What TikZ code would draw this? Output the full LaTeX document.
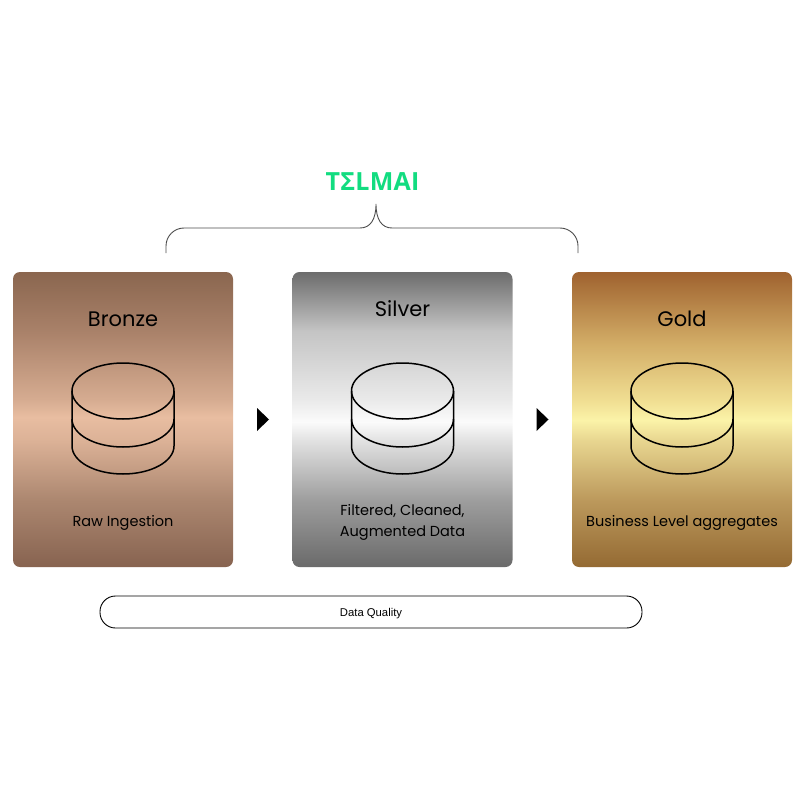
\documentclass[tikz,border=0pt]{standalone}
\usepackage{fontspec}
\setmainfont{Poppins}
\newfontfamily\arialish{Liberation Sans}
\newfontfamily\logofont[LetterSpace=1]{Open Sans}
\definecolor{logogreen}{HTML}{12DC80}
\definecolor{brA}{HTML}{8A664F}
\definecolor{brB}{HTML}{A98169}
\definecolor{brC}{HTML}{D6AC91}
\definecolor{brD}{HTML}{E8BDA1}
\definecolor{brE}{HTML}{DCB297}
\definecolor{brF}{HTML}{AC8770}
\definecolor{brG}{HTML}{876350}
\definecolor{siA}{HTML}{6C6C6C}
\definecolor{siB}{HTML}{C4C4C4}
\definecolor{siC}{HTML}{EAEAEA}
\definecolor{siD}{HTML}{FBFBFB}
\definecolor{siE}{HTML}{E2E2E2}
\definecolor{siF}{HTML}{9E9E9E}
\definecolor{siG}{HTML}{6A6A6A}
\definecolor{goA}{HTML}{9F622F}
\definecolor{goB}{HTML}{D2AC66}
\definecolor{goC}{HTML}{F0DE92}
\definecolor{goD}{HTML}{FBF3A8}
\definecolor{goE}{HTML}{E8D690}
\definecolor{goF}{HTML}{BC995C}
\definecolor{goG}{HTML}{946A33}
% 25bp = bottom of a card, 75bp = top of a card
\pgfdeclareverticalshading{bronzeshade}{100bp}{
 color(0bp)=(brG); color(25bp)=(brG); color(36.4bp)=(brF); color(46.5bp)=(brE);
 color(50.4bp)=(brD); color(53.3bp)=(brC); color(65bp)=(brB); color(75bp)=(brA); color(100bp)=(brA)}
\pgfdeclareverticalshading{silvershade}{100bp}{
 color(0bp)=(siG); color(25bp)=(siG); color(36.4bp)=(siF); color(46.5bp)=(siE);
 color(49.6bp)=(siD); color(53.3bp)=(siC); color(65bp)=(siB); color(75bp)=(siA); color(100bp)=(siA)}
\pgfdeclareverticalshading{goldshade}{100bp}{
 color(0bp)=(goG); color(25bp)=(goG); color(36.4bp)=(goF); color(46.5bp)=(goE);
 color(49.9bp)=(goD); color(53.3bp)=(goC); color(63bp)=(goB); color(75bp)=(goA); color(100bp)=(goA)}
\tikzset{
 card/.style={rounded corners=7pt,minimum width=220pt,minimum height=295pt,inner sep=0pt,draw=none},
 cardtitle/.style={font=\fontsize{21}{25}\selectfont,text=black,inner sep=0pt,anchor=center},
 cardtext/.style={font=\fontsize{14.5}{21}\selectfont,text=black,inner sep=0pt,align=center,anchor=center},
 dbline/.style={line width=1.5pt,draw=black},
 bracket/.style={line width=0.9pt,draw=black!70},
 pill/.style={rounded corners=15.5pt,draw=black,line width=0.9pt,minimum width=542pt,minimum height=32pt,inner sep=0pt},
 pilltext/.style={inner sep=0pt,font=\arialish\fontsize{11.3}{13}\selectfont},
 flowtip/.style={fill=black}
}
\newcommand{\dbicon}[1]{%
 \begin{scope}[shift={(#1,0)}]
  \draw[dbline] (0,391) ellipse [x radius=51pt,y radius=28pt];
  \draw[dbline] (-51,391) -- (-51,446) arc [start angle=180,end angle=360,x radius=51pt,y radius=28pt] -- (51,391);
  \draw[dbline] (-51,419) arc [start angle=180,end angle=360,x radius=51pt,y radius=28pt];
 \end{scope}}
\begin{document}
\begin{tikzpicture}[x=1pt,y=-1pt]
\useasboundingbox (0,0) rectangle (810,810);
\node[card,shading=bronzeshade] (bronze) at (123,419.5) {};
\node[card,shading=silvershade] (silver) at (402.5,419.5) {};
\node[card,shading=goldshade] (gold) at (682,419.5) {};
\node[cardtitle] (bronzetitle) at (123,319) {Bronze};
\node[cardtitle] (silvertitle) at (402.5,308.5) {Silver};
\node[cardtitle] (goldtitle) at (682,319) {Gold};
\dbicon{123}\dbicon{402.5}\dbicon{682}
\node[cardtext] (bronzetext) at (123,522.5) {Raw Ingestion};
\node[cardtext] (silvertext) at (402.5,522.5) {Filtered, Cleaned,\\Augmented Data};
\node[cardtext] (goldtext) at (682,522.5) {Business Level aggregates};
\fill[flowtip] (257,408) -- (269,419.5) -- (257,431) -- cycle;
\fill[flowtip] (536.5,408) -- (548.5,419.5) -- (536.5,431) -- cycle;
\node[inner sep=0pt,text=logogreen,font=\logofont\bfseries\fontsize{25}{29}\selectfont] (logo) at (372.5,182) {TΣLMAI};
\draw[bracket] (166,253) -- (166,246) arc [start angle=180,end angle=90,radius=18pt] -- (360,228)
  .. controls (370,228) and (376,220) .. (376,204)
  .. controls (376,220) and (382,228) .. (392,228) -- (560,228)
  arc [start angle=90,end angle=0,radius=18pt] -- (578,253);
\node[pill] (dq) at (371,612) {};
\node[pilltext] (dqtext) at (371,614) {Data Quality};
\end{tikzpicture}
\end{document}
